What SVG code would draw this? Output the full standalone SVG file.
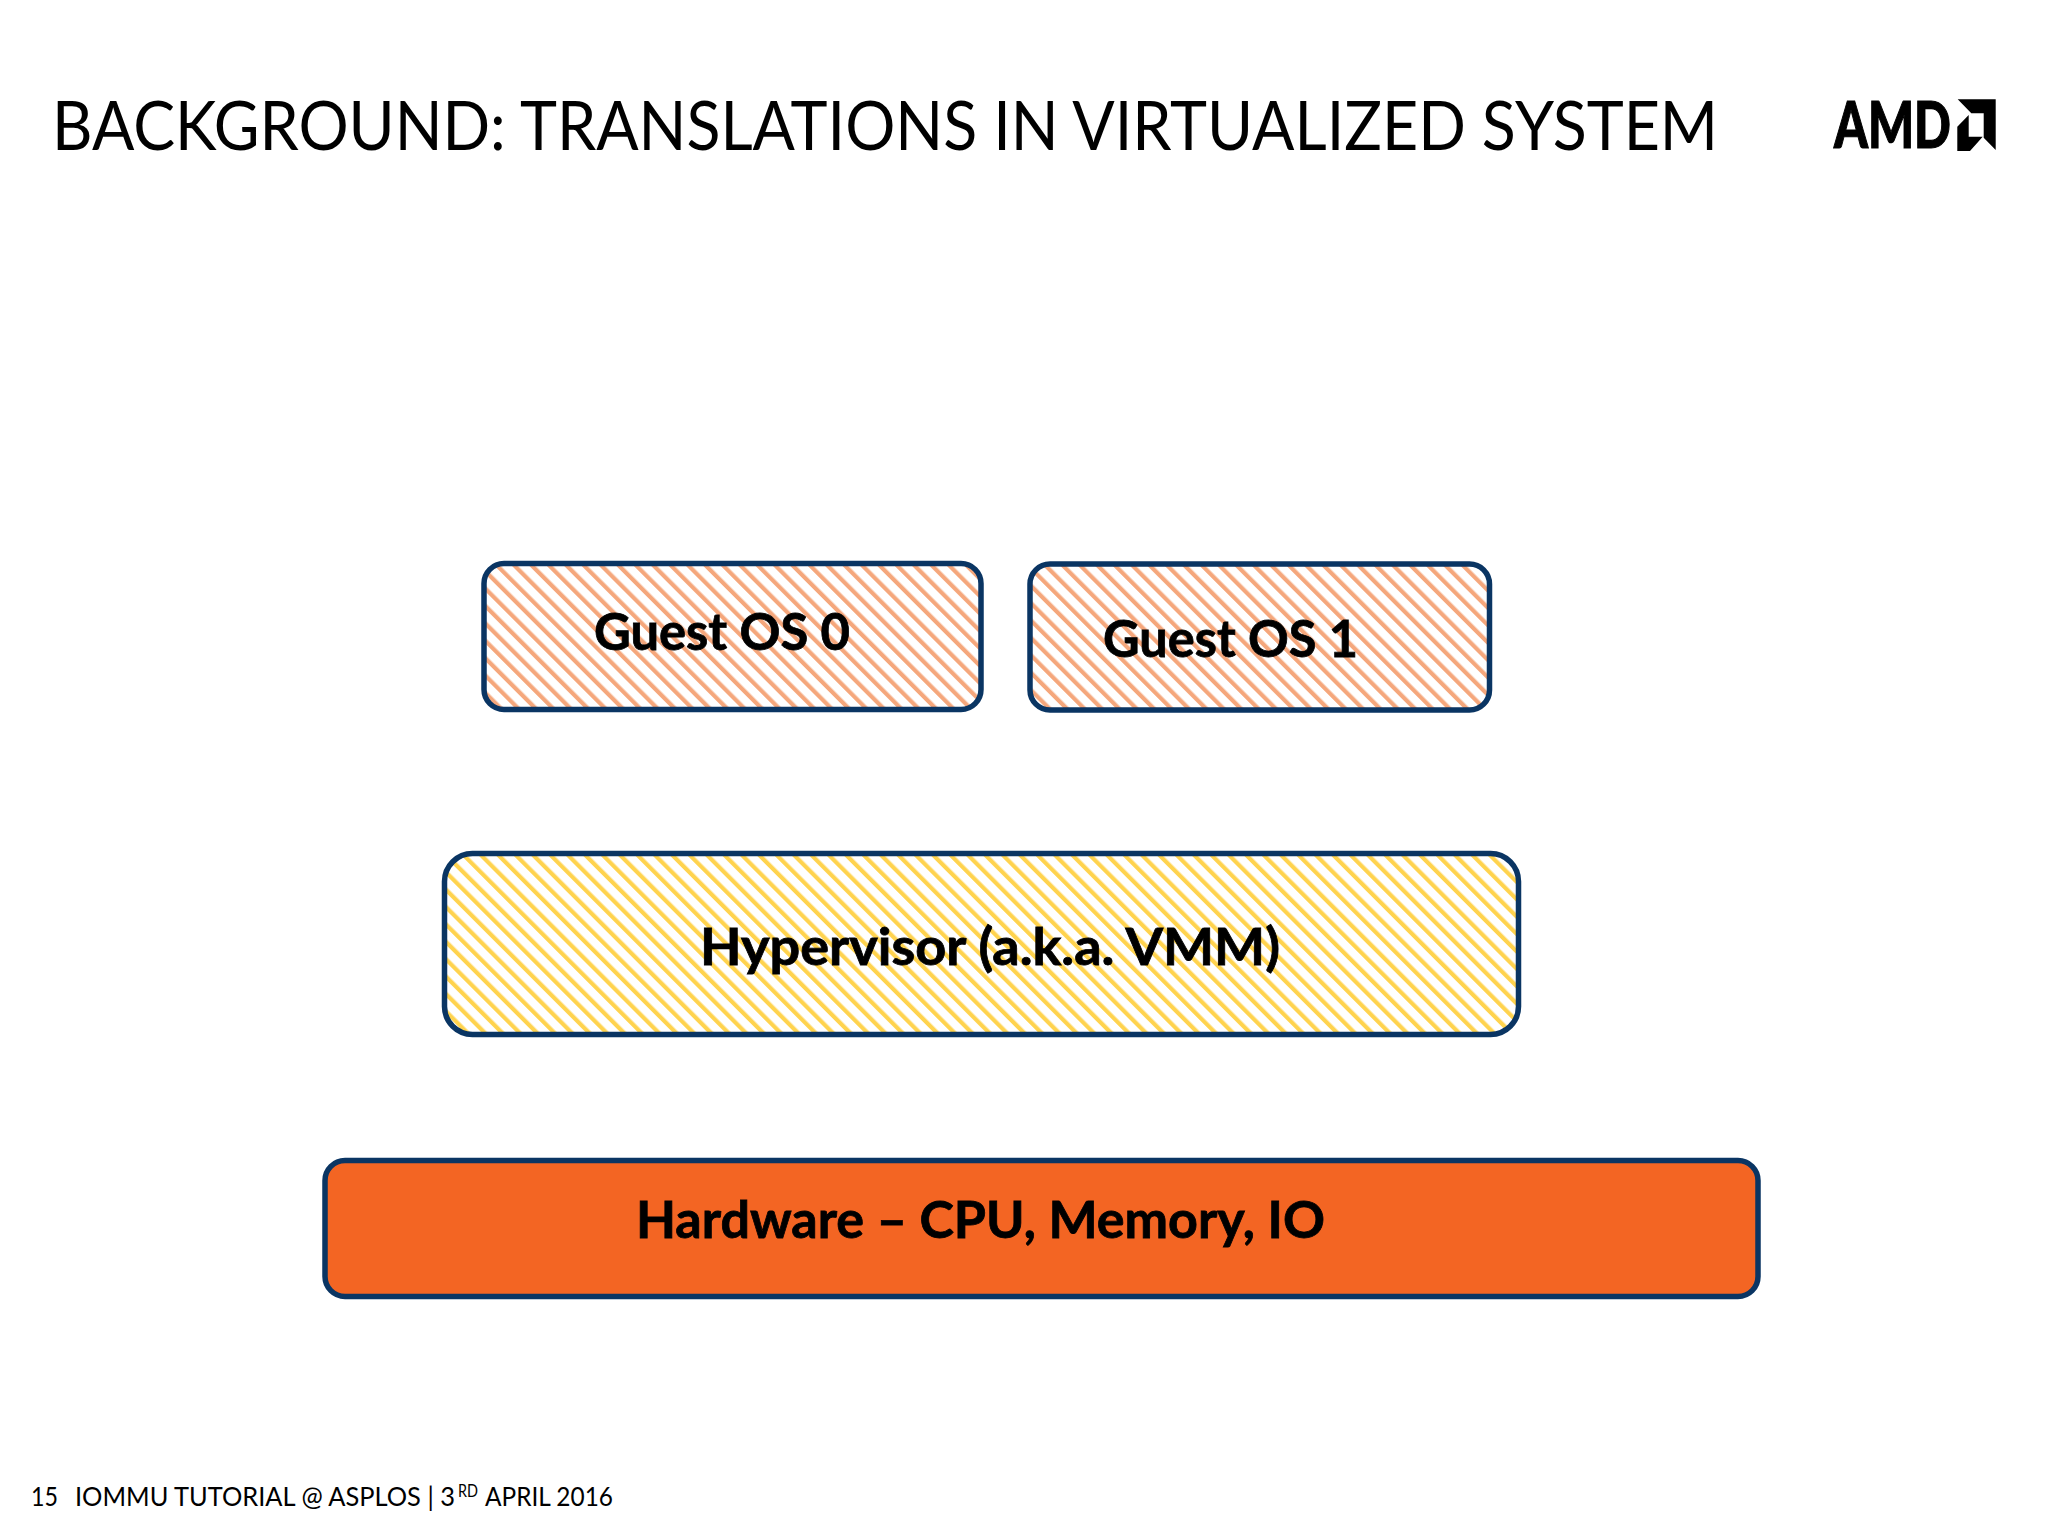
<svg xmlns="http://www.w3.org/2000/svg" width="2048" height="1536" viewBox="0 0 2048 1536">
<style>
text{font-family:"Lato","Noto Sans",sans-serif;fill:#000}
.lbl{font-size:52px;font-weight:700;stroke:#000;stroke-width:.8}
.foot{font-size:26.5px}
.box{stroke:#0a3563;stroke-width:5.5}
.red{fill:#f5a77c}
.yel{fill:#ffd34e}
</style>
<defs>
<pattern id="hatchRed0" patternUnits="userSpaceOnUse" width="12.3" height="12.3" patternTransform="translate(513 567) rotate(-45)"><rect width="12.3" height="12.3" fill="#fff"/><rect class="red" width="4.2" height="12.3"/></pattern>
<pattern id="hatchRed1" patternUnits="userSpaceOnUse" width="12.3" height="12.3" patternTransform="translate(1305 567) rotate(-45)"><rect width="12.3" height="12.3" fill="#fff"/><rect class="red" width="4.2" height="12.3"/></pattern>
<pattern id="hatchYellow" patternUnits="userSpaceOnUse" width="12.3" height="12.3" patternTransform="translate(479 856) rotate(-45)"><rect width="12.3" height="12.3" fill="#fff"/><rect class="yel" width="4.2" height="12.3"/></pattern>
</defs>
<rect width="2048" height="1536" fill="#fff"/>
<g id="title"><text x="52" y="150" font-size="68" textLength="1666" lengthAdjust="spacingAndGlyphs">BACKGROUND: TRANSLATIONS IN VIRTUALIZED SYSTEM</text></g>
<g id="logo">
<text x="1834" y="148" font-size="64" font-weight="900" stroke="#000" stroke-width="1.2" textLength="117" lengthAdjust="spacingAndGlyphs">AMD</text>
<polygon points="1957.7,99.3 1995.7,99.3 1995.7,150 1983.7,137.7 1983.7,113.3 1971.3,113.3"/>
<polygon points="1957.3,151 1957.3,126.7 1968.7,115 1968.7,136.7 1982.7,136.7 1970,151"/>
</g>
<g id="connectors"></g>
<g id="guest0"><rect class="box" x="484" y="563.5" width="497" height="146" rx="20" fill="url(#hatchRed0)"/><text class="lbl" x="594" y="650" textLength="256" lengthAdjust="spacingAndGlyphs">Guest OS 0</text></g>
<g id="guest1"><rect class="box" x="1030" y="564" width="459.5" height="146" rx="20" fill="url(#hatchRed1)"/><text class="lbl" x="1103" y="657" textLength="255" lengthAdjust="spacingAndGlyphs">Guest OS 1</text></g>
<g id="hypervisor"><rect class="box" x="444.5" y="853.5" width="1074" height="181" rx="28" fill="url(#hatchYellow)"/><text class="lbl" x="700" y="965" textLength="580" lengthAdjust="spacingAndGlyphs">Hypervisor (a.k.a. VMM)</text></g>
<g id="hardware"><rect class="box" x="325" y="1160.5" width="1433" height="136" rx="20" fill="#f36523"/><text class="lbl" x="636" y="1238" textLength="689" lengthAdjust="spacingAndGlyphs">Hardware – CPU, Memory, IO</text></g>
<g id="footer">
<text class="foot" x="31" y="1506" textLength="27" lengthAdjust="spacingAndGlyphs">15</text>
<text class="foot" x="75" y="1506" textLength="380" lengthAdjust="spacingAndGlyphs">IOMMU TUTORIAL @ ASPLOS | 3</text>
<text x="458" y="1497" font-size="17" textLength="20" lengthAdjust="spacingAndGlyphs">RD</text>
<text class="foot" x="485" y="1506" textLength="128" lengthAdjust="spacingAndGlyphs">APRIL 2016</text>
</g>
</svg>
